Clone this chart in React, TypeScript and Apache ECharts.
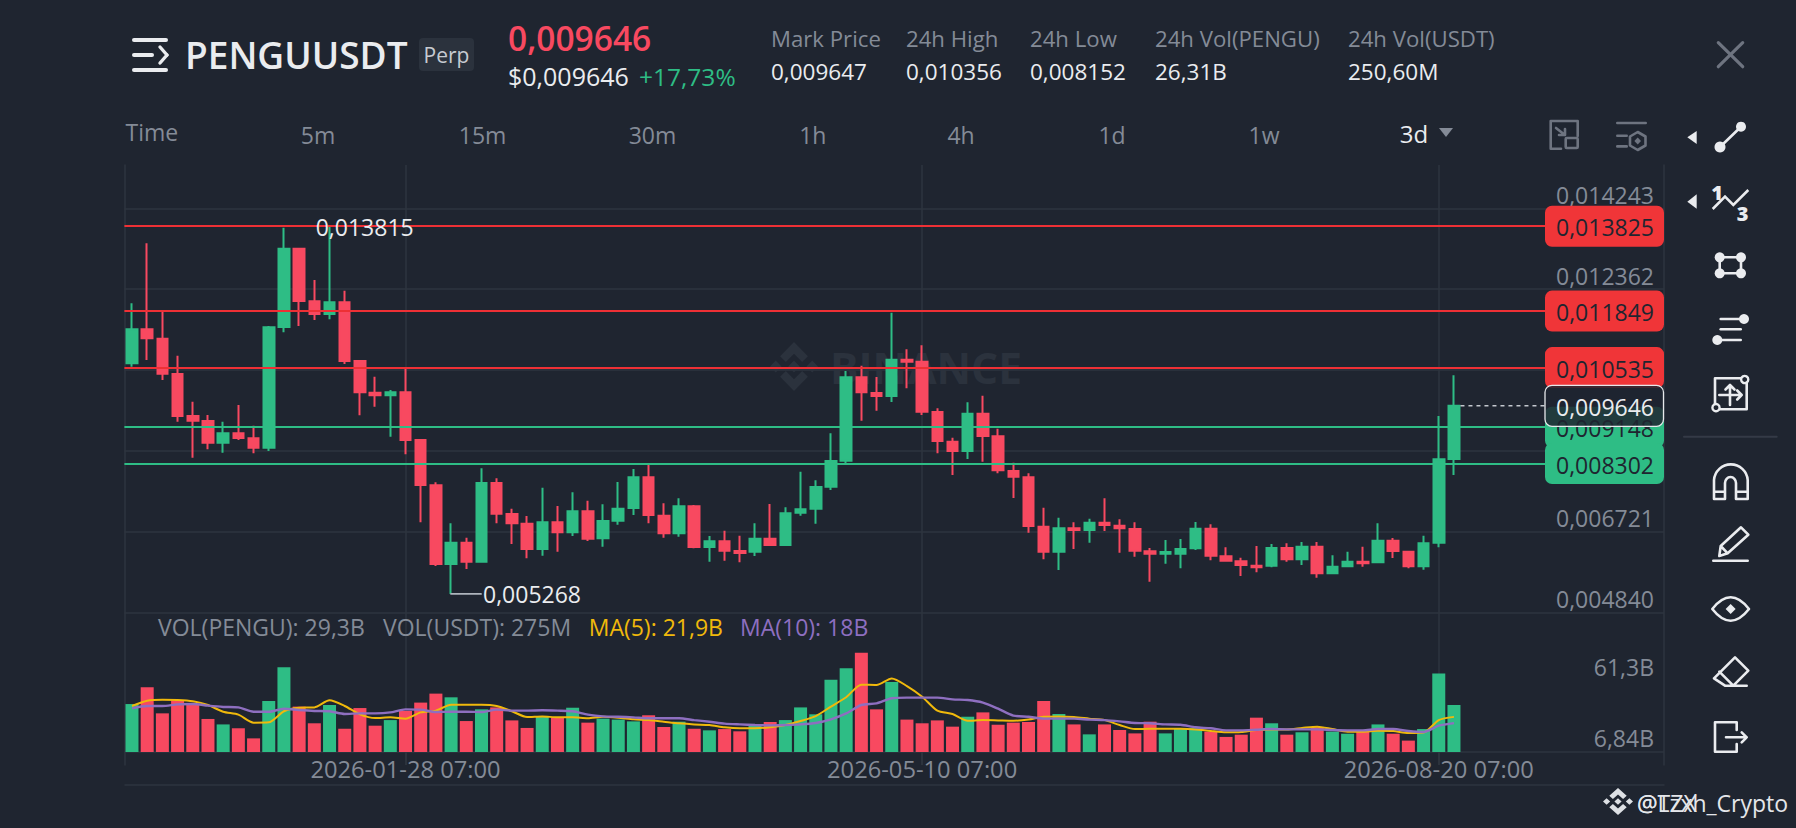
import React, { useEffect, useRef } from "react";
import * as echarts from "echarts";

const dates = [
  "2025-12-05","2025-12-08","2025-12-11","2025-12-14","2025-12-17","2025-12-20","2025-12-23","2025-12-26","2025-12-29",
  "2026-01-01","2026-01-04","2026-01-07","2026-01-10","2026-01-13","2026-01-16","2026-01-19","2026-01-22","2026-01-25","2026-01-28","2026-01-31",
  "2026-02-03","2026-02-06","2026-02-09","2026-02-12","2026-02-15","2026-02-18","2026-02-21","2026-02-24","2026-02-27",
  "2026-03-02","2026-03-05","2026-03-08","2026-03-11","2026-03-14","2026-03-17","2026-03-20","2026-03-23","2026-03-26","2026-03-29",
  "2026-04-01","2026-04-04","2026-04-07","2026-04-10","2026-04-13","2026-04-16","2026-04-19","2026-04-22","2026-04-25","2026-04-28",
  "2026-05-01","2026-05-04","2026-05-07","2026-05-10","2026-05-13","2026-05-16","2026-05-19","2026-05-22","2026-05-25","2026-05-28","2026-05-31",
  "2026-06-03","2026-06-06","2026-06-09","2026-06-12","2026-06-15","2026-06-18","2026-06-21","2026-06-24","2026-06-27","2026-06-30",
  "2026-07-03","2026-07-06","2026-07-09","2026-07-12","2026-07-15","2026-07-18","2026-07-21","2026-07-24","2026-07-27","2026-07-30",
  "2026-08-02","2026-08-05","2026-08-08","2026-08-11","2026-08-14","2026-08-17","2026-08-20","2026-08-23",
];
const blankSlots = [" "," "," "," "," "," "," "," "," "," "," "," "," "];
const labelledDates = ["2026-01-28", "2026-05-10", "2026-08-20"];

// open, close, low, high, in thousandths of a USDT
const candlesMilli = [
  [10.634,11.425,10.556,12.030],[11.425,11.216,10.711,13.427],[11.208,10.393,10.246,11.829],[10.386,9.408,9.276,10.812],
  [9.408,9.300,8.439,9.742],[9.292,8.788,8.633,9.432],[8.788,9.005,8.555,9.276],[9.005,8.896,8.850,9.664],
  [8.888,8.671,8.539,9.183],[8.671,11.472,8.594,11.503],[11.479,13.303,11.355,13.791],[13.303,12.085,11.503,13.303],
  [12.077,11.782,11.642,12.573],[11.782,12.054,11.658,13.815],[12.054,10.688,10.618,12.325],[10.688,9.959,9.424,10.688],
  [9.951,9.889,9.625,10.324],[9.889,9.959,8.927,10.013],[9.959,8.850,8.516,10.518],[8.850,7.802,6.934,8.865],
  [7.795,5.964,5.917,7.864],[5.964,6.460,5.268,6.910],[6.460,6.018,5.848,6.577],[6.018,7.849,6.018,8.190],
  [7.849,7.135,6.910,7.958],[7.128,6.910,6.429,7.252],[6.903,6.313,6.096,7.081],[6.313,6.934,6.158,7.740],
  [6.934,6.701,6.251,7.314],[6.701,7.190,6.616,7.632],[7.190,6.553,6.499,7.438],[6.561,6.965,6.367,7.353],
  [6.972,7.252,6.879,7.872],[7.267,7.981,7.104,8.175],[7.981,7.104,6.910,8.268],[7.089,6.678,6.577,7.376],
  [6.678,7.306,6.600,7.492],[7.306,6.360,6.329,7.337],[6.360,6.491,6.018,6.616],[6.491,6.274,6.042,6.740],
  [6.267,6.220,6.003,6.623],[6.251,6.553,6.150,6.910],[6.553,6.406,6.383,7.360],[6.406,7.143,6.383,7.283],
  [7.159,7.236,7.089,8.113],[7.252,7.756,6.903,7.911],[7.764,8.361,7.686,9.005],[8.369,10.308,8.307,10.455],
  [10.308,9.959,9.300,10.580],[9.944,9.874,9.532,10.316],[9.874,10.719,9.734,11.813],[10.719,10.673,10.052,10.960],
  [10.673,9.509,9.432,11.053],[9.501,8.826,8.539,9.587],[8.811,8.594,8.035,8.904],[8.594,9.463,8.408,9.726],
  [9.463,8.943,8.346,9.881],[8.935,8.144,8.074,9.113],[8.128,7.997,7.500,8.322],[7.981,6.848,6.693,8.074],
  [6.833,6.251,6.073,7.275],[6.251,6.794,5.824,7.042],[6.794,6.755,6.313,6.934],[6.755,6.926,6.460,7.019],
  [6.926,6.872,6.732,7.492],[6.856,6.794,6.228,7.003],[6.779,6.274,6.135,6.934],[6.259,6.204,5.553,6.336],
  [6.204,6.243,5.972,6.522],[6.204,6.313,5.863,6.546],[6.329,6.786,6.290,6.941],[6.786,6.158,6.049,6.887],
  [6.142,6.042,6.018,6.352],[6.026,5.941,5.685,6.111],[5.925,5.886,5.770,6.383],[5.925,6.336,5.886,6.429],
  [6.336,6.073,6.018,6.445],[6.073,6.367,5.941,6.476],[6.367,5.747,5.646,6.476],[5.747,5.902,5.723,6.166],
  [5.910,6.018,5.910,6.251],[6.018,5.979,5.902,6.367],[6.003,6.507,5.987,6.910],[6.507,6.267,6.104,6.569],
  [6.251,5.910,5.863,6.274],[5.910,6.445,5.832,6.623],[6.460,8.400,6.352,9.408],[8.408,9.646,8.035,10.356],
];

// billions of PENGU
const volumes = [
  29.9,40.3,24.1,32.2,29.9,20.6,17.2,14.8,8.5,31.8,52.8,28.3,17.9,29.3,14.5,27.4,16.4,19.9,25.6,30.8,
  36.4,34.1,19.3,26.6,27.8,19.7,15.0,22.0,21.6,27.6,18.3,20.8,20.2,19.1,22.9,15.6,18.9,14.5,13.5,14.3,
  12.9,16.2,18.7,19.9,27.8,23.5,45.1,52.2,61.9,26.6,43.6,20.2,17.9,19.7,15.8,22.0,24.7,17.0,18.3,18.7,
  31.8,23.7,17.2,11.0,17.2,13.7,11.6,18.9,11.6,14.8,14.8,12.7,9.4,10.8,21.4,17.9,10.8,12.3,15.4,12.7,
  11.4,13.3,17.2,11.4,7.1,14.3,49.0,29.3,
];
const ma5 = [
  28.7,32.0,32.6,32.4,31.6,29.3,25.1,23.3,18.3,18.5,25.4,27.6,27.8,32.2,28.7,23.5,21.2,21.6,20.8,24.7,
  25.8,29.5,29.5,29.5,28.7,25.4,21.8,22.2,21.6,21.6,21.0,22.0,21.4,20.4,19.9,18.9,17.9,17.2,16.8,15.4,
  14.8,14.8,15.4,16.8,19.3,22.4,28.3,34.1,42.0,41.8,45.9,41.1,34.5,25.8,23.7,19.5,19.9,19.7,19.5,20.2,
  22.0,22.2,21.8,20.8,19.9,16.8,14.3,14.5,14.5,14.5,14.1,13.1,12.3,12.5,13.7,14.1,14.1,15.0,15.8,14.3,
  12.7,12.7,13.3,13.1,11.8,12.1,19.9,21.9,
];
const ma10 = [
  27.2,28.7,28.7,29.7,29.9,28.9,28.1,27.8,25.1,25.1,27.0,26.2,25.6,25.4,23.7,24.1,24.1,24.7,26.6,26.4,
  24.9,25.1,25.1,24.9,26.4,25.8,25.8,26.0,25.8,25.4,23.3,22.2,22.0,21.6,21.0,21.0,21.0,19.9,18.9,17.7,
  17.2,16.8,16.6,16.8,17.2,18.1,20.4,24.1,29.3,30.3,33.5,33.9,33.9,33.9,32.8,32.4,30.8,27.0,22.7,22.0,
  20.8,20.8,20.8,20.2,19.9,19.1,18.1,17.9,17.2,17.0,15.4,14.8,13.5,13.5,13.9,14.3,14.1,14.1,14.1,13.7,
  13.5,13.5,14.3,14.3,13.1,12.5,16.4,18.0,
];

const priceGridValues = [0.00484, 0.006721, 0.008601, 0.010482, 0.012362, 0.014243];
const priceTickLabels = [0.00484, 0.006721, 0.012362, 0.014243];
const volumeTickLabels = ["61,3B", "6,84B"];
const resistanceLevels = [0.013825, 0.011849, 0.010535];
const supportLevels = [0.009148, 0.008302];
const lastPrice = 0.009646;
const headerStats = [
  ["Mark Price", "0,009647"],
  ["24h High", "0,010356"],
  ["24h Low", "0,008152"],
  ["24h Vol(PENGU)", "26,31B"],
  ["24h Vol(USDT)", "250,60M"],
];
const intervals = ["5m", "15m", "30m", "1h", "4h", "1d", "1w"];

const BG = "#1F2530";
const GREEN = "#2EBD85";
const RED = "#F84960";
const LINE_RED = "#EE3035";
const TAG_RED = "#F03538";
const GRID = "#2E343F";
const GRAY = "#848B97";
const WHITE = "#EAECEF";
const ICON_GRAY = "#6E7480";
const FONT = "'Open Sans', 'Noto Sans', sans-serif";

const fmt = (v: number) => v.toFixed(6).replace(".", ",");

const LOGO =
  "M50 38L62 50L50 62L38 50ZM12 38L24 50L12 62L0 50ZM88 38L100 50L88 62L76 50ZM50 0L79 29L67 41L50 24L33 41L21 29ZM50 100L21 71L33 59L50 76L67 59L79 71Z";
echarts.graphic.registerShape("bnbLogo", echarts.graphic.extendPath(LOGO as any, {}) as any);
const ICONS: Record<string, string> = {
  magnet:
    "M1714 499V480A16.9 16.9 0 0 1 1747.7 480V499H1736V483A5.5 6 0 0 0 1725 483V499ZM1714 491.7H1725M1736 491.7H1747.7",
  pencil: "M1719.3 556L1720.7 546L1741 527.3L1748.3 534.7L1727.7 553.3ZM1720.7 546L1727.7 553.3M1713.3 560.7H1747.7",
  eye: "M1712.3 609Q1730.6 585.6 1749 609Q1730.6 632.4 1712.3 609Z",
  eraser: "M1735 657.3L1748.3 670.7L1733.3 685.7H1725L1714 678.3ZM1719.3 671.7L1733.3 685.7M1733.3 685.7H1746.7",
  exit: "M1736.7 730V722.3H1715V751.7H1736.7V744M1726 737.3H1746.7M1741.7 732.3L1746.7 737.3L1741.7 742.3",
  box: "M1715 378.3H1742M1746.7 383V409.3H1719M1715 404V378.3M1730 405V385M1725.5 389.5L1730 385L1734.5 389.5M1719.3 395H1741.7M1737.2 390.5L1741.7 395L1737.2 399.5",
  pip: "M1577.7 136V121H1550.7V148.7H1561M1556 128L1565 135M1565 129V135H1559",
  hex: "M1637.7 132L1645.5 136.5V145.5L1637.7 150L1630 145.5V136.5Z",
};
Object.keys(ICONS).forEach((k) => {
  echarts.graphic.registerShape("ic_" + k, echarts.graphic.extendPath(ICONS[k] as any, {}) as any);
});

const text = (t: string, x: number, y: number, font: string, fill: string, align = "left", z = 10) => ({
  type: "text",
  x,
  y,
  z,
  silent: true,
  style: { text: t, font, fill, textAlign: align, textVerticalAlign: "middle" },
});
const seg = (x1: number, y1: number, x2: number, y2: number, stroke = WHITE, lineWidth = 2.6, z = 10) => ({
  type: "line",
  z,
  silent: true,
  shape: { x1, y1, x2, y2 },
  style: { stroke, lineWidth, lineCap: "round" },
});
const dot = (cx: number, cy: number, r: number, fill = WHITE, stroke?: string) => ({
  type: "circle",
  z: 11,
  silent: true,
  shape: { cx, cy, r },
  style: stroke ? { fill, stroke, lineWidth: 2.4 } : { fill },
});
const poly = (points: number[][], fill = WHITE, z = 10) => ({
  type: "polygon",
  z,
  silent: true,
  shape: { points },
  style: { fill },
});
const icon = (k: string, stroke = WHITE) => ({
  type: "ic_" + k,
  z: 10,
  silent: true,
  style: { fill: "none", stroke, lineWidth: 2.6, lineJoin: "round", lineCap: "round" },
});

function chrome(yOf: (v: number) => number, xOf: (i: number) => number) {
  const statX = [771, 906, 1030, 1155, 1348];
  const intervalX = [318, 482.6, 652.5, 812.8, 961, 1112, 1264];
  const tag = (v: number, fill: string, textFill: string, z: number, h = 41) => [
    {
      type: "rect",
      z,
      silent: true,
      shape: { x: 1545, y: yOf(v) - h / 2, width: 119, height: h, r: 7 },
      style: { fill },
    },
    text(fmt(v), 1654, yOf(v) + 1, `400 23px ${FONT}`, textFill, "right", z + 1),
  ];
  const lastCandleRight = xOf(87) + 6.5;
  const lowX = xOf(21);
  return [
    // watermark
    { type: "bnbLogo", x: 770, y: 342, scaleX: 0.48, scaleY: 0.49, z: 0, silent: true, style: { fill: "#2B323D" } },
    text("BINANCE", 830, 367, `700 42.5px ${FONT}`, "#2B323D", "left", 0),

    // header
    { type: "rect", z: 10, silent: true, shape: { x: 132, y: 38, width: 36, height: 4, r: 2 }, style: { fill: WHITE } },
    { type: "rect", z: 10, silent: true, shape: { x: 132, y: 53, width: 22, height: 4, r: 2 }, style: { fill: WHITE } },
    { type: "rect", z: 10, silent: true, shape: { x: 132, y: 68, width: 36, height: 4, r: 2 }, style: { fill: WHITE } },
    seg(160, 47, 167, 55, WHITE, 3.4),
    seg(167, 55, 160, 63, WHITE, 3.4),
    text("PENGUUSDT", 185, 54, `600 37px ${FONT}`, WHITE),
    { type: "rect", z: 9, silent: true, shape: { x: 419, y: 38, width: 55, height: 33, r: 4 }, style: { fill: "#2B323D" } },
    text("Perp", 446.5, 55, `400 21px ${FONT}`, "#C7CBD1", "center"),
    text("0,009646", 508, 38, `600 33.5px ${FONT}`, RED),
    text("$0,009646", 508, 76, `500 25px ${FONT}`, WHITE),
    text("+17,73%", 639, 76, `500 24.5px ${FONT}`, GREEN),
    ...headerStats.flatMap(([k, v], i) => [
      text(k, statX[i], 38, `400 22.2px ${FONT}`, GRAY),
      text(v, statX[i], 71, `400 22.5px ${FONT}`, WHITE),
    ]),
    seg(1718.3, 42.7, 1742.7, 66.7, ICON_GRAY, 3.2),
    seg(1742.7, 42.7, 1718.3, 66.7, ICON_GRAY, 3.2),

    // interval row
    text("Time", 125.5, 132, `400 23px ${FONT}`, GRAY),
    ...intervals.map((t, i) => text(t, intervalX[i], 135, `400 23px ${FONT}`, GRAY, "center")),
    text("3d", 1414, 133, `500 24px ${FONT}`, WHITE, "center"),
    poly([[1439, 128], [1453, 128], [1446, 137]], GRAY),
    icon("pip", ICON_GRAY),
    { type: "rect", z: 10, silent: true, shape: { x: 1565.7, y: 138, width: 12, height: 10, r: 1 }, style: { fill: "none", stroke: ICON_GRAY, lineWidth: 2.6 } },
    seg(1617.3, 123, 1645.7, 123, ICON_GRAY),
    seg(1617.3, 135.7, 1626.7, 135.7, ICON_GRAY),
    seg(1617.3, 146.4, 1626.7, 146.4, ICON_GRAY),
    icon("hex", ICON_GRAY),
    poly([[1637.7, 137.5], [1641, 141], [1637.7, 144.5], [1634.4, 141]], ICON_GRAY),

    // frame
    seg(125, 785, 1664, 785, GRID, 1.5, 1),

    // legend
    text("VOL(PENGU): 29,3B", 158, 627, `400 23px ${FONT}`, GRAY),
    text("VOL(USDT): 275M", 383, 627, `400 23px ${FONT}`, GRAY),
    text("MA(5): 21,9B", 588.7, 627, `400 23px ${FONT}`, "#F0B90B"),
    text("MA(10): 18B", 740, 627, `400 23px ${FONT}`, "#8E6FC0"),

    // extrema annotations
    text("0,013815", 315.7, 227, `400 23px ${FONT}`, WHITE, "left", 12),
    seg(lowX, yOf(0.005268), 481, yOf(0.005268), "#AEB4BC", 1.8),
    text("0,005268", 483, 594, `400 23px ${FONT}`, WHITE),

    // last price guide and volume ticks
    {
      type: "line",
      z: 8,
      silent: true,
      shape: { x1: lastCandleRight, y1: yOf(lastPrice), x2: 1545, y2: yOf(lastPrice) },
      style: { stroke: "#C4C8CE", lineWidth: 1.5, lineDash: [4, 4] },
    },
    text(volumeTickLabels[0], 1654, 667, `400 23px ${FONT}`, GRAY, "right"),
    text(volumeTickLabels[1], 1654, 738, `400 23px ${FONT}`, GRAY, "right"),

    // price tags
    ...resistanceLevels.flatMap((v) => tag(v, TAG_RED, "#1F2530", 40)),
    ...supportLevels.flatMap((v) => tag(v, GREEN, "#1F2530", 42)),
    {
      type: "rect",
      z: 50,
      silent: true,
      shape: { x: 1545, y: yOf(lastPrice) - 20.5, width: 118.5, height: 41, r: 7 },
      style: { fill: "rgba(30,37,48,0.85)", stroke: "#E6E8EB", lineWidth: 1.3 },
    },
    text(fmt(lastPrice), 1654, yOf(lastPrice) + 1, `400 23px ${FONT}`, WHITE, "right", 51),

    // drawing toolbar
    poly([[1696.7, 131], [1696.7, 144], [1687.3, 137.3]]),
    seg(1741, 126.7, 1720, 147),
    dot(1741, 126.7, 5),
    dot(1720, 147, 5.5),
    poly([[1696.7, 194.3], [1696.7, 208.7], [1687.3, 201.7]]),
    { type: "polyline", z: 10, silent: true, shape: { points: [[1712.7, 209], [1725, 196.7], [1733.3, 205], [1748.3, 190]] }, style: { fill: "none", stroke: WHITE, lineWidth: 2.6 } },
    text("1", 1717, 192, `800 20px ${FONT}`, WHITE, "center"),
    text("3", 1742.7, 213, `800 20px ${FONT}`, WHITE, "center"),
    seg(1719.7, 257.3, 1741, 257.3),
    seg(1719.7, 273.3, 1741, 273.3),
    seg(1719.7, 257.3, 1719.7, 273.3),
    seg(1741, 257.3, 1741, 273.3),
    dot(1719.7, 257.3, 5),
    dot(1741, 257.3, 5),
    dot(1719.7, 273.3, 5),
    dot(1741, 273.3, 5),
    seg(1720.7, 319, 1743.3, 319),
    seg(1720.7, 329.3, 1740.7, 329.3),
    seg(1717.3, 340, 1740.7, 340),
    dot(1744, 319, 5),
    dot(1717.3, 340, 5),
    icon("box"),
    dot(1744.7, 379.5, 3.6, BG, WHITE),
    dot(1716, 407.7, 3.6, BG, WHITE),
    seg(1684, 436.7, 1776.7, 436.7, "#343A46", 2),
    icon("magnet"),
    icon("pencil"),
    icon("eye"),
    poly([[1730.6, 604], [1735.6, 609], [1730.6, 614], [1725.6, 609]]),
    icon("eraser"),
    icon("exit"),

    // author mark
    { type: "bnbLogo", x: 1603, y: 788, scaleX: 0.3, scaleY: 0.27, z: 10, silent: true, style: { fill: "#DDE0E4" } },
    text("@TZX", 1637, 803, `400 23px ${FONT}`, "#E4E6EA"),
    text("@Lzxh_Crypto", 1637, 803, `400 23px ${FONT}`, "#E4E6EA"),
  ];
}

export default function App() {
  const ref = useRef<HTMLDivElement>(null);
  useEffect(() => {
    document.body.style.margin = "0";
    document.body.style.background = BG;
    const chart = echarts.init(ref.current!, undefined, { renderer: "svg" });
    const categories = [...dates, ...blankSlots];
    const candles = candlesMilli.map((r) => r.map((v) => v / 1000));
    const band = 15.195;
    const plotLeft = 124.4;
    const plotWidth = categories.length * band;
    const frameWidth = 1664 - plotLeft;
    const priceMax = 0.0152496;
    const priceMin = 0.00484;
    const frameMin = 0.0012863;
    const volumeBase = 0.0016006;

    const levelLine = (v: number, color: string) => ({
      yAxis: v,
      lineStyle: { color, width: 2, type: "solid" },
    });

    chart.setOption({
      animation: false,
      backgroundColor: BG,
      tooltip: { show: false },
      grid: [
        { left: plotLeft, width: plotWidth, top: 165, height: 447.3 },
        { left: plotLeft, width: plotWidth, top: 612.3, height: 139.7 },
        { left: plotLeft, width: frameWidth, top: 165, height: 600 },
      ],
      xAxis: [
        { type: "category", gridIndex: 0, data: categories, show: false },
        {
          type: "category",
          gridIndex: 1,
          data: categories,
          axisLine: { show: false },
          axisTick: {
            show: true,
            alignWithLabel: true,
            length: 13,
            interval: (_: number, v: string) => labelledDates.includes(v),
            lineStyle: { color: GRID, width: 1.5 },
          },
          axisLabel: {
            show: true,
            interval: (_: number, v: string) => labelledDates.includes(v),
            formatter: (v: string) => `${v} 07:00`,
            color: GRAY,
            fontFamily: FONT,
            fontSize: 23.7,
            margin: 5,
            hideOverlap: false,
          },
          splitLine: { show: false },
        },
        {
          type: "value",
          gridIndex: 2,
          min: -0.5,
          max: -0.5 + frameWidth / band,
          axisLine: { show: false },
          axisLabel: { show: false },
          axisTick: { show: false, customValues: labelledDates.map((d) => dates.indexOf(d)) },
          splitLine: { show: true, lineStyle: { color: GRID, width: 1.5 } },
        },
      ],
      yAxis: [
        { type: "value", gridIndex: 0, min: priceMin, max: priceMax, show: false, scale: true, splitLine: { show: false } },
        { type: "value", gridIndex: 1, min: 0, max: 87.1, show: false, splitLine: { show: false } },
        {
          type: "value",
          gridIndex: 2,
          position: "right",
          min: frameMin,
          max: priceMax,
          axisLine: { show: true, onZero: false, lineStyle: { color: GRID, width: 1.5 } },
          axisTick: { show: false, customValues: [volumeBase, ...priceGridValues] },
          axisLabel: {
            show: true,
            inside: true,
            customValues: priceTickLabels,
            formatter: (v: number) => fmt(v),
            color: GRAY,
            fontFamily: FONT,
            fontSize: 23,
            lineHeight: 26,
            verticalAlign: "bottom",
            margin: 10,
          },
          splitLine: { show: true, lineStyle: { color: GRID, width: 1.5 } },
        },
        {
          type: "value",
          gridIndex: 2,
          position: "left",
          min: frameMin,
          max: priceMax,
          axisLine: { show: true, onZero: false, lineStyle: { color: GRID, width: 1.5 } },
          axisTick: { show: false },
          axisLabel: { show: false },
          splitLine: { show: false },
        },
      ],
      series: [
        {
          type: "candlestick",
          name: "PENGUUSDT",
          xAxisIndex: 0,
          yAxisIndex: 0,
          data: candles,
          barWidth: 11,
          itemStyle: {
            color: GREEN,
            color0: RED,
            borderColor: GREEN,
            borderColor0: RED,
            borderWidth: 2,
          },
        },
        {
          type: "line",
          name: "Levels",
          xAxisIndex: 0,
          yAxisIndex: 0,
          data: [],
          showSymbol: false,
          z: 6,
          markLine: {
            silent: true,
            symbol: "none",
            precision: 6,
            animation: false,
            label: { show: false },
            data: [
              ...resistanceLevels.map((v) => levelLine(v, LINE_RED)),
              ...supportLevels.map((v) => levelLine(v, GREEN)),
            ],
          },
        },
        {
          type: "bar",
          name: "VOL(PENGU)",
          xAxisIndex: 1,
          yAxisIndex: 1,
          barWidth: 13,
          data: volumes.map((v, i) => ({
            value: v,
            itemStyle: { color: candlesMilli[i][1] >= candlesMilli[i][0] ? GREEN : RED },
          })),
        },
        {
          type: "line",
          name: "MA(5)",
          xAxisIndex: 1,
          yAxisIndex: 1,
          data: ma5,
          showSymbol: false,
          smooth: 0.25,
          lineStyle: { color: "#F0B90B", width: 2 },
          z: 4,
        },
        {
          type: "line",
          name: "MA(10)",
          xAxisIndex: 1,
          yAxisIndex: 1,
          data: ma10,
          showSymbol: false,
          smooth: 0.25,
          lineStyle: { color: "#8E6FC0", width: 2.4 },
          z: 5,
        },
      ],
    });

    const yOf = (v: number) => chart.convertToPixel({ yAxisIndex: 0 }, v) as number;
    const xOf = (i: number) => chart.convertToPixel({ xAxisIndex: 0 }, categories[i]) as number;
    chart.setOption({ graphic: { elements: chrome(yOf, xOf) } });

    return () => chart.dispose();
  }, []);
  return <div ref={ref} style={{ width: 1796, height: 828 }} />;
}
